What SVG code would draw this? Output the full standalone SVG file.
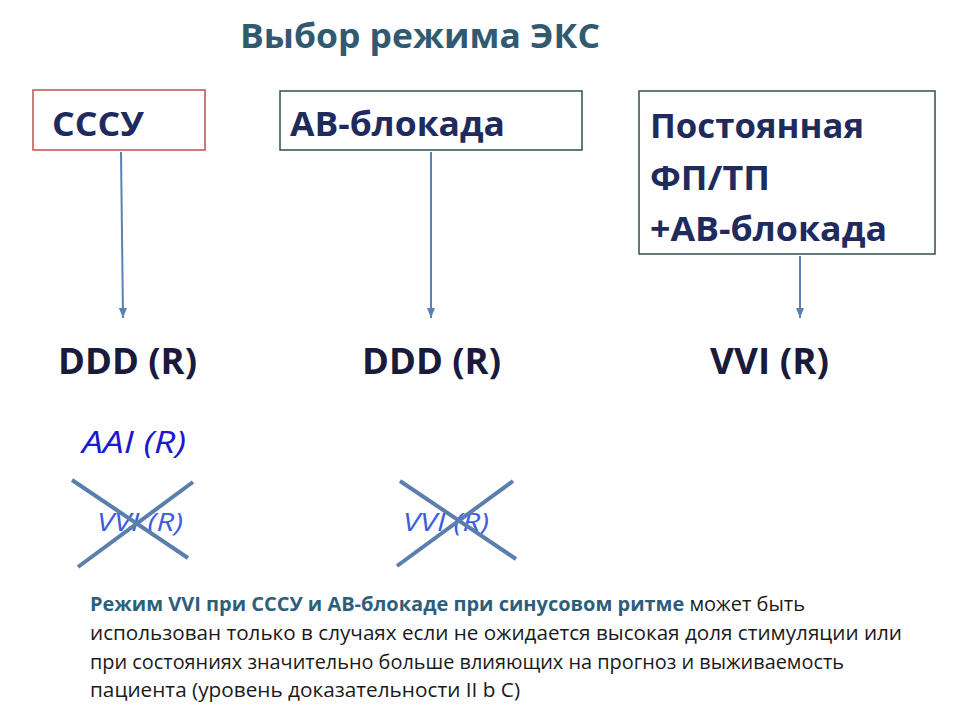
<svg xmlns="http://www.w3.org/2000/svg" width="960" height="720" viewBox="0 0 960 720">
<defs>
<marker id="ah" markerWidth="10" markerHeight="8" refX="10" refY="4" orient="auto" markerUnits="userSpaceOnUse" viewBox="0 0 10 8"><path d="M0,0 L10,4 L0,8 Z" fill="#5a82b4"/></marker>
<style>
text{font-family:"Open Sans","Liberation Sans",sans-serif}
.t{font-weight:bold;font-size:34px;fill:#1f2b5c}
.m{font-weight:bold;font-size:35px;fill:#1a1a3a}
.c{stroke:#5a82b4;stroke-width:2}
.x{stroke:#5a7fad;stroke-width:4}
.p{font-size:20px;fill:#1a1a1a}
</style>
</defs>
<rect width="960" height="720" fill="#fff"/>
<text x="240" y="48" font-weight="bold" font-size="34" fill="#31596f" textLength="360" lengthAdjust="spacingAndGlyphs">Выбор режима ЭКС</text>
<g id="sssu"><rect x="33" y="90" width="172" height="60" fill="#fff" stroke="#c0504d" stroke-width="1.5"/><text class="t" x="52" y="136" textLength="92" lengthAdjust="spacingAndGlyphs">СССУ</text></g>
<g id="av"><rect x="280" y="91" width="302" height="59" fill="#fff" stroke="#2f4f4f" stroke-width="1.5"/><text class="t" x="290" y="136" textLength="215" lengthAdjust="spacingAndGlyphs">АВ-блокада</text></g>
<g id="fp"><rect x="639" y="91" width="296" height="163" fill="#fff" stroke="#2f4f4f" stroke-width="1.5"/><text class="t" x="650" y="138" textLength="214" lengthAdjust="spacingAndGlyphs">Постоянная</text><text class="t" x="650" y="190" textLength="120" lengthAdjust="spacingAndGlyphs">ФП/ТП</text><text class="t" x="650" y="241" textLength="237" lengthAdjust="spacingAndGlyphs">+АВ-блокада</text></g>
<g id="connectors">
<line class="c" x1="121" y1="152" x2="123" y2="318" marker-end="url(#ah)"/>
<line class="c" x1="431" y1="152" x2="431" y2="318" marker-end="url(#ah)"/>
<line class="c" x1="800" y1="256" x2="800" y2="318" marker-end="url(#ah)"/>
</g>
<g id="ddd1"><text class="m" x="58" y="374" textLength="139" lengthAdjust="spacingAndGlyphs">DDD (R)</text></g>
<g id="ddd2"><text class="m" x="362" y="374" textLength="139" lengthAdjust="spacingAndGlyphs">DDD (R)</text></g>
<g id="vvi3"><text class="m" x="710" y="374" textLength="119" lengthAdjust="spacingAndGlyphs">VVI (R)</text></g>
<g id="aai"><text x="82" y="453" font-style="italic" font-size="31" fill="#1a1acc" textLength="104" lengthAdjust="spacingAndGlyphs">AAI (R)</text></g>
<g id="vvi1"><text x="97" y="531" font-style="italic" font-size="25" fill="#3a5ee0" textLength="86" lengthAdjust="spacingAndGlyphs">VVI (R)</text><line class="x" x1="72" y1="480" x2="188" y2="558"/><line class="x" x1="78" y1="567" x2="193" y2="482"/></g>
<g id="vvi2"><text x="403" y="531" font-style="italic" font-size="25" fill="#3a5ee0" textLength="86" lengthAdjust="spacingAndGlyphs">VVI (R)</text><line class="x" x1="400" y1="481" x2="516" y2="559"/><line class="x" x1="397" y1="566" x2="513" y2="481"/></g>
<g id="note">
<text class="p" x="90" y="611" textLength="715" lengthAdjust="spacingAndGlyphs"><tspan font-weight="bold" fill="#2e5f7a">Режим VVI при СССУ и АВ-блокаде при синусовом ритме</tspan> может быть</text>
<text class="p" x="90" y="640" textLength="812" lengthAdjust="spacingAndGlyphs">использован только в случаях если не ожидается высокая доля стимуляции или</text>
<text class="p" x="90" y="669" textLength="754" lengthAdjust="spacingAndGlyphs">при состояниях значительно больше влияющих на прогноз и выживаемость</text>
<text class="p" x="90" y="697" textLength="430" lengthAdjust="spacingAndGlyphs">пациента (уровень доказательности II b C)</text>
</g>
</svg>
